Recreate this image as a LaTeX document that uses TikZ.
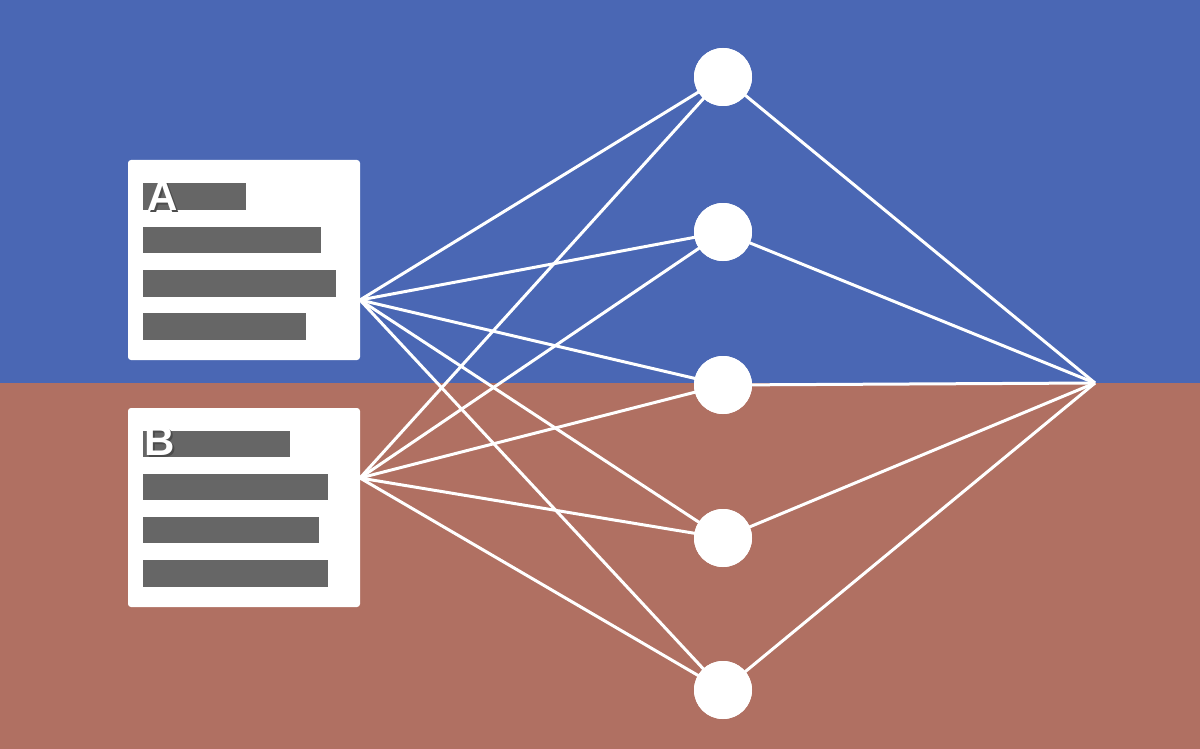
\documentclass[tikz,border=0pt]{standalone}
\usepackage{fontspec}
\setmainfont{Liberation Sans}
\begin{document}
\begin{tikzpicture}[x=1pt,y=-1pt,
  card/.style={fill=white,rounded corners=3pt},
  bar/.style={fill=black!60},
  neuron/.style={circle,fill=white,minimum size=58pt,inner sep=0pt},
  link/.style={white,line width=3pt},
  letter/.style={font=\bfseries\fontsize{42}{42}\selectfont,text=white,anchor=base,inner sep=0pt},
  shade/.style={font=\bfseries\fontsize{42}{42}\selectfont,text=black!70,anchor=base,inner sep=0pt}]
\fill[fill={rgb,255:red,74;green,103;blue,180}] (0,0) rectangle (1200,383);
\fill[fill={rgb,255:red,176;green,112;blue,98}] (0,383) rectangle (1200,749);
\useasboundingbox (0,0) rectangle (1200,749);
\coordinate (a) at (360,300);
\coordinate (b) at (360,478);
\coordinate (o) at (1095,383);
\foreach \i/\y in {1/77,2/232,3/385,4/538,5/690}{
  \node[neuron] (n\i) at (723,\y) {};
}
\foreach \i in {1,...,5}{
  \draw[link] (a) -- (n\i.center);
  \draw[link] (b) -- (n\i.center);
  \draw[link] (n\i.center) -- (o);
}
\foreach \i in {1,...,5}{ \node[neuron] at (n\i) {}; }
\fill[card] (128,160) rectangle (360,360);
\fill[card] (128,408) rectangle (360,607);
\fill[bar] (143,183) rectangle (246,210);
\fill[bar] (143,227) rectangle (321,253);
\fill[bar] (143,270) rectangle (336,297);
\fill[bar] (143,313) rectangle (306,340);
\fill[bar] (143,431) rectangle (290,457);
\fill[bar] (143,474) rectangle (328,500);
\fill[bar] (143,517) rectangle (319,543);
\fill[bar] (143,560) rectangle (328,587);
\node[shade] (sa) at (165,212) {A};
\node[letter] (la) at (163,210) {A};
\node[shade] (sb) at (162,457) {B};
\node[letter] (lb) at (160,455) {B};
\end{tikzpicture}
\end{document}
